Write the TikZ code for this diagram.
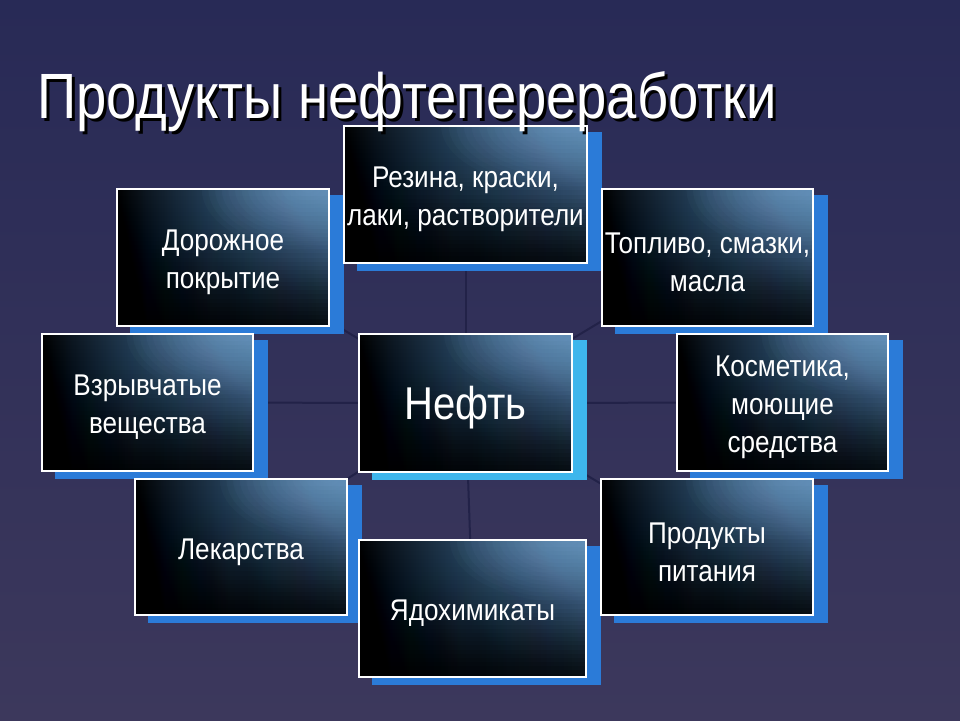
\documentclass[tikz,border=0pt]{standalone}
\usepackage{fontspec}
\setmainfont[FakeStretch=0.87]{Liberation Sans}
\newfontfamily\titlefont[FakeStretch=0.85]{Liberation Sans}
\usetikzlibrary{calc}
\pgfdeclarelayer{bg}\pgfdeclarelayer{lines}\pgfdeclarelayer{shadow}\pgfdeclarelayer{fills}
\pgfsetlayers{bg,lines,shadow,fills,main}
\definecolor{bgtop}{RGB}{40,42,86}
\definecolor{bgbot}{RGB}{60,56,92}
\definecolor{linec}{RGB}{34,34,72}
\definecolor{shadowblue}{RGB}{43,123,216}
\definecolor{shadowcyan}{RGB}{62,182,236}
\definecolor{glowc}{RGB}{140,185,225}
\definecolor{cA}{RGB}{12,22,32}
\definecolor{cB}{RGB}{40,70,98}
\definecolor{cC}{RGB}{82,126,168}
\pgfdeclarehorizontalshading{boxh}{100bp}{color(0bp)=(black); color(25bp)=(black); color(32bp)=(cA); color(50bp)=(cB); color(75bp)=(cC); color(100bp)=(cC)}
\tikzset{
  boxnode/.style={draw=white, line width=1.3pt, inner sep=0pt},
  boxtext/.style={text=white, align=center, inner sep=0pt},
  boxfont/.style={font=\fontsize{30}{38}\selectfont},
  bigfont/.style={font=\fontsize{46}{50}\selectfont},
  conn/.style={draw=linec, line width=2pt},
  titletext/.style={font=\titlefont\fontsize{64}{70}\selectfont, anchor=base west, inner sep=0pt}
}
\newcommand\mybox[8]{%
  \node[boxnode, minimum width=#4pt, minimum height=#5pt] (#1) at (#2,#3) {};
  \node[boxtext, #8] (#1-t) at ([shift={(0,5)}]#1.center) {#7};
  \begin{pgfonlayer}{shadow}
    \fill[#6] ([shift={(14,7)}]#1.north west) rectangle ([shift={(14,7)}]#1.south east);
  \end{pgfonlayer}
  \begin{pgfonlayer}{fills}
    \shade[shading=boxh] (#1.north west) rectangle (#1.south east);
    \begin{scope}
      \clip (#1.north west) rectangle (#1.south east);
      \foreach \k in {1,...,16}{
        \fill[glowc, fill opacity=0.035] (#2+#4*0.4,#3-#5*0.5) ellipse ({#4*0.5*\k/16} and {#5*0.45*\k/16});
      }
      \foreach \i in {0,...,31}{
        \pgfmathsetmacro\ya{#3-#5/2+#5*(0.05+0.03*\i)}
        \pgfmathsetmacro\op{0.01+0.12*(\i/31)^1.5}
        \fill[black, fill opacity=\op] (#2-#4/2,\ya) rectangle (#2+#4/2,#3+#5/2+1);
      }
    \end{scope}
  \end{pgfonlayer}
}
\begin{document}
\begin{tikzpicture}[x=1pt,y=-1pt]
\begin{pgfonlayer}{bg}
  \shade[top color=bgtop, bottom color=bgbot] (0,0) rectangle (960,720);
\end{pgfonlayer}
\useasboundingbox (0,0) rectangle (960,720);

\node[titletext, text=black] (titleshadow) at (40,121) {Продукты нефтепереработки};
\node[titletext, text=white] (title) at (37,118) {Продукты нефтепереработки};

\mybox{rez}{465.5}{194.5}{243}{137}{shadowblue}{Резина, краски,\\лаки, растворители}{boxfont}
\mybox{dor}{223}{257.5}{212}{137}{shadowblue}{Дорожное\\покрытие}{boxfont}
\mybox{top}{707.5}{257.5}{211}{137}{shadowblue}{Топливо, смазки,\\масла}{boxfont}
\mybox{vzr}{147.5}{402.5}{211}{137}{shadowblue}{Взрывчатые\\вещества}{boxfont}
\mybox{neft}{465.5}{403}{213}{138}{shadowcyan}{Нефть}{bigfont}
\mybox{kos}{782.5}{402.5}{211}{137}{shadowblue}{Косметика,\\моющие\\средства}{boxfont}
\mybox{lek}{241}{547}{212}{136}{shadowblue}{Лекарства}{boxfont}
\mybox{prod}{707}{547}{212}{136}{shadowblue}{Продукты\\питания}{boxfont}
\mybox{yad}{472.5}{608.5}{227}{137}{shadowblue}{Ядохимикаты}{boxfont}

\begin{pgfonlayer}{lines}
  \foreach \n in {rez,dor,top,vzr,kos,lek,prod,yad}{
    \draw[conn] (neft.center) -- (\n.center);
  }
\end{pgfonlayer}
\end{tikzpicture}
\end{document}
